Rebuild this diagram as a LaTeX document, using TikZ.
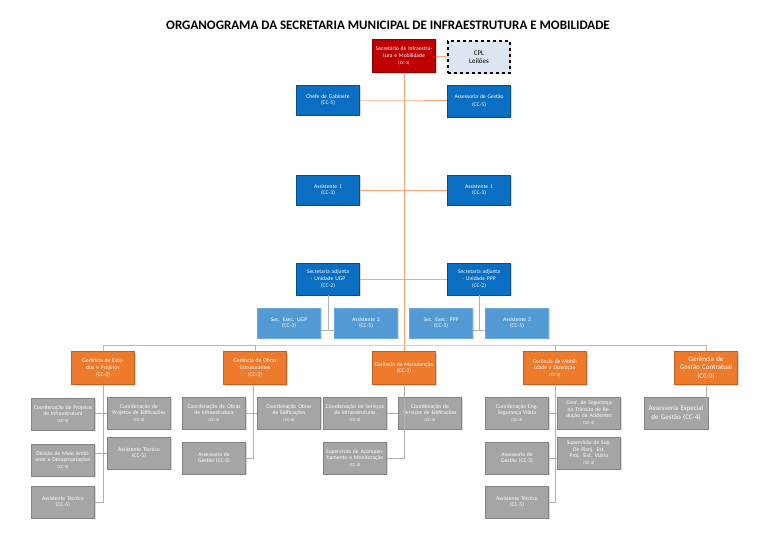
\documentclass[tikz,border=0pt]{standalone}
\usepackage{fontspec}
\setmainfont{Carlito}
\usetikzlibrary{shadows}
\definecolor{cred}{HTML}{C00000}
\definecolor{cblue}{HTML}{0A6FC2}
\definecolor{corange}{HTML}{EE7A2C}
\definecolor{cgray}{HTML}{A5A5A5}
\definecolor{cline}{HTML}{F2A878}
\definecolor{cgline}{HTML}{B0B0B0}
\definecolor{ccpl}{HTML}{DCE6F2}
\tikzset{
 bx/.style={minimum width=63pt, minimum height=32pt, text width=60pt, align=center, inner sep=1pt, text=white, font=\fontsize{5.6}{6.6}\selectfont, drop shadow={opacity=0.3,shadow xshift=1pt,shadow yshift=-1pt}},
 redbox/.style={bx, fill=cred, draw=cred!70!black},
 bluebox/.style={bx, fill=cblue, draw=cblue!70!black, minimum height=30pt},
 lbluebox/.style={bx, fill=cblue!70, draw=cblue!60, minimum height=30pt},
 orbox/.style={bx, fill=corange, draw=corange!80!black, minimum height=33pt},
 grbox/.style={bx, fill=cgray, draw=cgray!80!black, minimum height=32pt},
 oline/.style={cline, line width=1pt},
 gline/.style={cgline, line width=0.8pt},
}
\begin{document}
\begin{tikzpicture}[x=1pt,y=-1pt]
\useasboundingbox (0,0) rectangle (768,543);
\node[font=\bfseries\fontsize{13}{14}\selectfont] (title) at (388,25) {ORGANOGRAMA DA SECRETARIA MUNICIPAL DE INFRAESTRUTURA E MOBILIDADE};
% top
\node[redbox, minimum height=33pt] (sec) at (404,56) {Secretário de Infraestrutura e Mobilidade\\[1pt]{\fontsize{4.5}{5}\selectfont(CC-1)}};
\node[bx, fill=ccpl, draw=black, dashed, line width=1.3pt, text=black, minimum width=62pt, font=\fontsize{7}{8}\selectfont] (cpl) at (479,57) {CPL\\Leilões};
\coordinate (bot) at (404,345);
\coordinate (c1) at (404,100);
\draw[oline] (sec) -- (bot);
\draw[oline] (sec) -- (cpl);
\node[bluebox] (chefe) at (328,100) {Chefe de Gabinete\\(CC-5)};
\node[bluebox, minimum height=32pt] (asg) at (479,101) {Assessoria de Gestão\\[2pt](CC-5)};
\node[bluebox] (a1l) at (328,190) {Assistente 1\\(CC-3)};
\node[bluebox] (a1r) at (479,190) {Assistente 1\\(CC-3)};
\node[bluebox, minimum height=32pt] (ugp) at (328,279) {Secretaria adjunta - Unidade UGP\\(CC-2)};
\node[bluebox, minimum height=32pt] (ppp) at (479,279) {Secretaria adjunta - Unidade PPP\\(CC-2)};
\draw[oline] (chefe) -- (c1) -- (chefe.east-|asg.west);
\draw[oline] (a1l) -- (a1r);
\draw[oline] (ugp) -- (ppp);
\node[lbluebox] (seu) at (289,323) {Sec. Exec. UGP\\(CC-3)};
\node[lbluebox] (a2u) at (366,323) {Assistente 2\\(CC-5)};
\node[lbluebox] (sep) at (441,323) {Sec. Exec. PPP\\(CC-3)};
\node[lbluebox] (a2p) at (517,323) {Assistente 2\\(CC-5)};
\coordinate (ju) at (328,330); \coordinate (jp) at (479,330);
\draw[gline] (ugp) -- (ju);
\draw[gline] (seu.east|-ju) -- (a2u.west|-ju);
\draw[gline] (ppp) -- (jp);
\draw[gline] (sep.east|-jp) -- (a2p.west|-jp);
% gerencias
\node[orbox] (g1) at (103,368) {Gerência de Estudos e Projetos\\(CC-3)};
\node[orbox] (g2) at (255,368) {Gerência de Obras Estruturantes\\(CC-3)};
\node[orbox] (g3) at (404,368) {Gerência de Manutenção\\(CC-3)};
\node[orbox] (g4) at (555,368) {Gerência de Mobilidade e Operação\\{\fontsize{4.5}{5}\selectfont(CC-3)}};
\node[orbox, font=\fontsize{7}{8.5}\selectfont] (g5) at (706,368) {Gerência de Gestão Contratual\\(CC-3)};
\draw[oline] (g1.north) |- (bot) -| (g5.north);
\draw[oline] (g2.north) -- (g2.north|-bot);
\draw[oline] (g3.north) -- (bot);
\draw[oline] (g4.north) -- (g4.north|-bot);
% column 1
\node[grbox] (b11) at (63,414) {Coordenação de Projetos de Infraestrutura\\{\fontsize{4.5}{5}\selectfont(CC-4)}};
\node[grbox] (b12) at (139,413) {Coordenação de Projetos de Edificações\\{\fontsize{4.5}{5}\selectfont(CC-4)}};
\node[grbox] (b13) at (63,460) {Divisão de Meio Ambiente e Desapropriações\\{\fontsize{4.5}{5}\selectfont(CC-4)}};
\node[grbox] (b14) at (139,453) {Assistente Técnico\\(CC-5)};
\node[grbox] (b15) at (63,502) {Assistente Técnico\\(CC-5)};
\coordinate (e1) at (103,502);
\draw[gline] (g1) -- (e1) -- (b15);
\draw[gline] (b11.east|-103,413) -- (b12.west);
\draw[gline] (b13.east|-103,453) -- (b14.west);
% column 2
\node[grbox] (b21) at (214,413) {Coordenação de Obras de Infraestrutura\\{\fontsize{4.5}{5}\selectfont(CC-4)}};
\node[grbox] (b22) at (289,413) {Coordenação Obras de Edificações\\{\fontsize{4.5}{5}\selectfont(CC-4)}};
\node[grbox] (b23) at (214,458) {Assessoria de Gestão (CC-5)};
\coordinate (e2) at (253,458);
\draw[gline] (g2.south-|e2) -- (e2) -- (b23);
\draw[gline] (b21) -- (b22);
% column 3
\node[grbox] (b31) at (355,413) {Coordenação de Serviços de Infraestruturas\\{\fontsize{4.5}{5}\selectfont(CC-4)}};
\node[grbox] (b32) at (430,413) {Coordenação de Serviços de Edificações\\{\fontsize{4.5}{5}\selectfont(CC-4)}};
\node[grbox] (b33) at (355,458) {Supervisão de Acompanhamento e Monitoração\\{\fontsize{4.5}{5}\selectfont(CC-4)}};
\coordinate (e3) at (404,458);
\draw[gline] (g3) -- (e3) -- (b33);
\draw[gline] (b31) -- (b32);
% column 4
\node[grbox] (b41) at (517,413) {Coordenação Eng. Segurança Viária\\{\fontsize{4.5}{5}\selectfont(CC-4)}};
\node[grbox] (b42) at (589,413) {Coor. de Segurança no Trânsito de Redução de Acidentes\\{\fontsize{4.5}{5}\selectfont(CC-4)}};
\node[grbox] (b43) at (517,458) {Assessoria de Gestão (CC-5)};
\node[grbox] (b44) at (589,453) {Supervisão de Sup. De Planj. Est. Proj. Sist. Viário\\{\fontsize{4.5}{5}\selectfont(CC-4)}};
\node[grbox] (b45) at (517,502) {Assistente Técnico\\(CC-5)};
\coordinate (e4) at (555,502);
\draw[gline] (g4) -- (e4) -- (b45);
\draw[gline] (b41) -- (b42);
\draw[gline] (b43) -- (b44.west|-b43);
% column 5
\node[grbox, minimum width=64pt, font=\fontsize{7}{8.5}\selectfont] (b51) at (676,413) {Assessoria Especial de Gestão (CC-4)};
\coordinate (e5) at (706,413);
\draw[gline] (g5) -- (e5) -- (b51);
\end{tikzpicture}
\end{document}
